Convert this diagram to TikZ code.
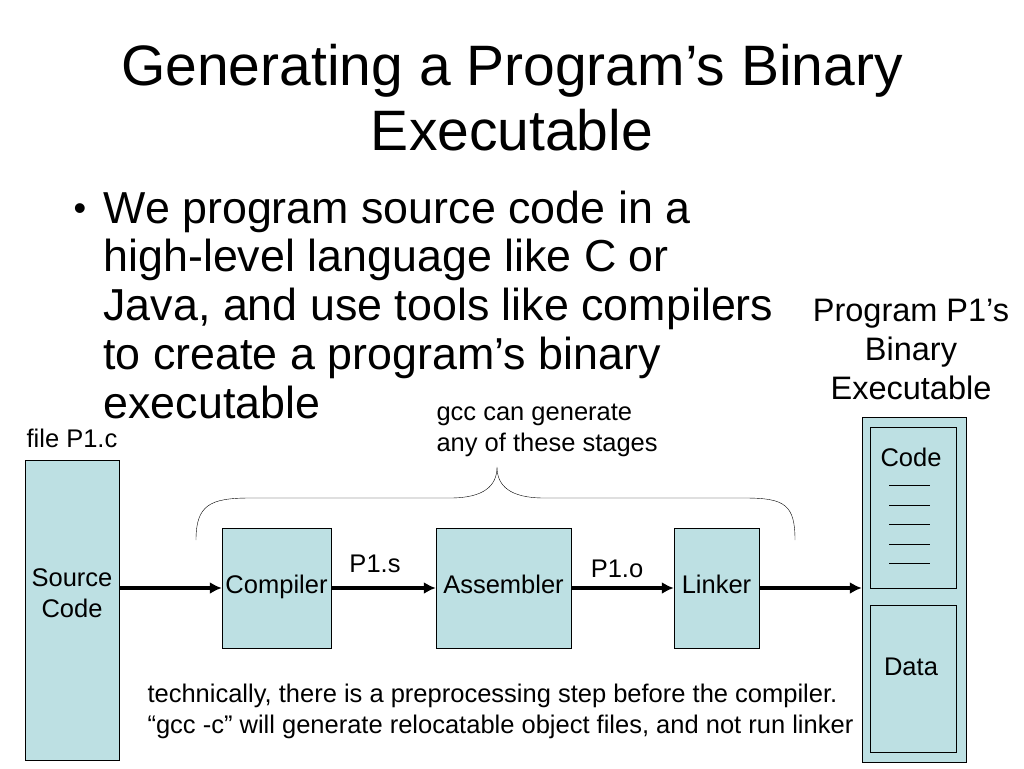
\documentclass[tikz,border=0pt]{standalone}
\usepackage{fontspec}
\setmainfont{Liberation Sans}
\begin{document}
\begin{tikzpicture}[x=1pt,y=-1pt,
  box/.style={draw,fill=boxc,inner sep=0pt},
  arr/.style={line width=3.5pt,-{Latex[length=12pt,width=12pt]}},
  lbl/.style={font=\fontsize{25.5}{31}\selectfont},
  bl/.style={lbl,text height=15pt,text depth=4pt}]
\definecolor{boxc}{HTML}{BDE0E3}
\usetikzlibrary{arrows.meta}
\useasboundingbox (0,0) rectangle (1024,768);
\node[font=\fontsize{57}{65}\selectfont,align=center] (title) at (512,98) {Generating a Program’s Binary\\Executable};
\node[font=\fontsize{44.8}{48.8}\selectfont,align=left,anchor=north west] (bul) at (100,187)
 {We program source code in a\\high-level language like C or\\Java, and use tools like compilers\\to create a program’s binary\\executable};
\node[font=\fontsize{36}{40}\selectfont] (dot) at (80,212) {•};
\node[font=\fontsize{32.5}{39}\selectfont,align=center] (pp) at (911,349) {Program P1’s\\Binary\\Executable};
\node[lbl,align=left,anchor=west] (gcc) at (433,430) {gcc can generate\\any of these stages};
\node[lbl] (fp) at (72,438) {file P1.c};
\node[box,minimum width=94pt,minimum height=300pt] (src) at (72,610) {};
\node[lbl,align=center] (srct) at (72,593) {Source\\Code};
\node[box,minimum width=109pt,minimum height=120pt,bl] (comp) at (276.5,588) {Compiler};
\node[box,minimum width=135pt,minimum height=120pt,bl] (asm) at (503.5,588) {Assembler};
\node[box,minimum width=85pt,minimum height=120pt,bl] (lnk) at (716.5,588) {Linker};
\node[box,minimum width=104pt,minimum height=345pt] (exe) at (914,589.5) {};
\node[box,minimum width=86pt,minimum height=161pt] (code) at (913,507.5) {};
\node[box,minimum width=86pt,minimum height=147pt] (data) at (913,678.5) {};
\node[lbl] (ct) at (911,457) {Code};
\node[lbl] (dt) at (911,667) {Data};
\foreach \yy in {485,505,524,544,563} \draw (889,\yy) -- (930,\yy);
\draw[arr] (src.east |- comp.west) -- (comp.west);
\draw[arr] (comp) -- (asm);
\draw[arr] (asm) -- (lnk);
\draw[arr] (lnk) -- (exe.west |- lnk.east);
\node[lbl] (ps) at (375,564) {P1.s};
\node[lbl] (po) at (617,569) {P1.o};
\draw (196,540) .. controls (196,505) and (210,498) .. (250,498) -- (450,498) .. controls (485,498) and (497,485) .. (497,467)
  .. controls (497,485) and (509,498) .. (544,498) -- (745,498) .. controls (785,498) and (795,505) .. (795,540);
\node[lbl,align=left,anchor=west] (note) at (144,711) {technically, there is a preprocessing step before the compiler.\\“gcc -c” will generate relocatable object files, and not run linker};
\end{tikzpicture}
\end{document}
